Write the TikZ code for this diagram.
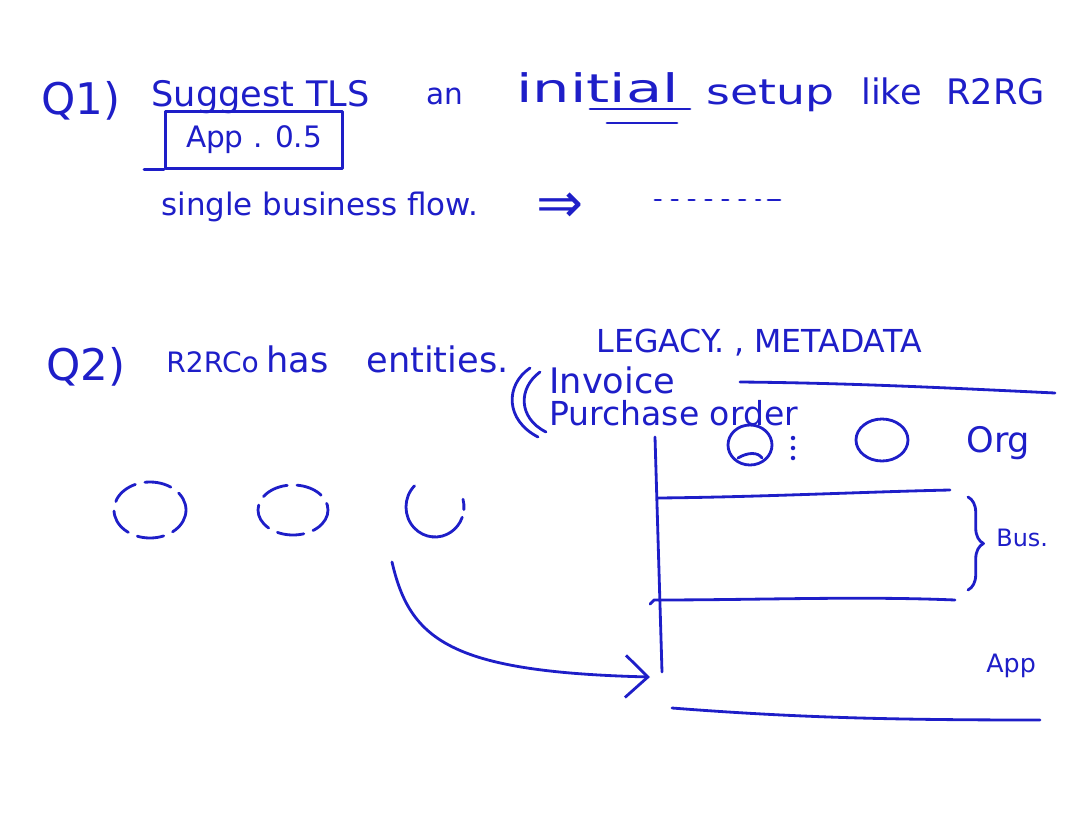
\documentclass[tikz,border=0pt]{standalone}
\usepackage{fontspec}
\setsansfont{DejaVu Sans}
\usetikzlibrary{arrows.meta,decorations.pathreplacing}
\definecolor{ink}{RGB}{30,30,200}
\tikzset{
  hand/.style={anchor=base west, inner sep=0pt, font=\sffamily\fontsize{25}{27}\selectfont},
  handbig/.style={hand, font=\sffamily\fontsize{31}{33}\selectfont},
  handsm/.style={hand, font=\sffamily\fontsize{21}{23}\selectfont},
  handxs/.style={hand, font=\sffamily\fontsize{18}{20}\selectfont},
  oval/.style={dash pattern=on 19pt off 7pt}
}
\begin{document}
\begin{tikzpicture}[x=0.025cm, y=-0.025cm, color=ink, line width=2pt, line join=round, line cap=round, >=stealth]
	\useasboundingbox (0,0) rectangle (1080,816);
	% Q1
	\node[handbig] (qa) at (40,114) {Q1)};
	\node[hand] (suggest) at (150,106) {Suggest};
	\node[hand] (tls) at (305,106) {TLS};
	\node[handsm] (an) at (425,104) {an};
	\node[hand, font=\sffamily\fontsize{28}{30}\selectfont] (initial) at (515,102) {\scalebox{1.5}[1]{initial}};
	\node[hand] (setup) at (705,104) {\scalebox{1.3}[1]{setup}};
	\node[hand] (like) at (860,104) {like};
	\node[hand] (rrg) at (945,104) {R2RG};
	\draw (590,109)--(690,109);
	\draw (607,123)--(677,123);
	\node[handsm, anchor=center, draw, minimum width=126pt, minimum height=40pt] (app) at (254,140) {App . 0.5};
	\draw (app.south west) ++(-20,0) -- (app.south west);
	\node[hand, font=\sffamily\fontsize{22}{24}\selectfont] (flow) at (160,215) {single business flow.};
	\node[hand, anchor=center, font=\sffamily\fontsize{40}{42}\selectfont] (impl) at (560,208) {⇒};
	\draw[dash pattern=on 4pt off 8pt] (655,200)--(760,200);
	\draw (768,200)--(780,200);
	% Q2
	\node[handbig] (qb) at (45,380) {Q2)};
	\node[hand, font=\sffamily\fontsize{20}{22}\selectfont] (rrco) at (165,372) {R2RCo};
	\node[hand] (has) at (265,372) {has};
	\node[hand] (ent) at (365,372) {entities.};
	\node[hand, font=\sffamily\fontsize{22.5}{24}\selectfont] (legacy) at (595,352) {LEGACY. , METADATA};
	\node[hand] (invoice) at (548,393) {Invoice};
	\node[hand, font=\sffamily\fontsize{23.5}{25}\selectfont] (po) at (548,425) {Purchase order};
	\draw (530,368) .. controls (505,385) and (505,420) .. (538,437);
	\draw (540,372) .. controls (518,388) and (518,418) .. (546,432);
	\draw (740,382) .. controls (850,383) and (950,388) .. (1055,393);
	% entities row
	\draw (750,445) ellipse (22 and 20);
	\draw (738,458) .. controls (748,452) and (758,452) .. (762,458);
	\foreach \y in {438,448,458}{
		\fill (793,\y) circle (1.6pt);}
	\draw (882,440) ellipse (26 and 21);
	\node[hand] (org) at (965,452) {Org};
	% layers
	\coordinate (vtop) at (655,437);
	\coordinate (vbot) at (662,672);
	\draw (vtop) -- (vbot);
	\draw (658,498) .. controls (760,497) and (860,492) .. (950,490);
	\draw (650,604) -- (654,600) .. controls (760,600) and (860,596) .. (955,600);
	\draw (672,708) .. controls (800,718) and (900,720) .. (1040,720);
	\draw[decorate, decoration={brace, amplitude=11pt}] (968,497) -- (968,590);
	\node[hand, font=\sffamily\fontsize{17}{19}\selectfont] (bus) at (995,546) {Bus.};
	\node[hand, font=\sffamily\fontsize{18}{20}\selectfont] (applbl) at (985,672) {App};
	% dashed ovals
	\draw[oval] (150,510) ellipse (36 and 28);
	\draw[oval] (293,510) ellipse (35 and 25);
	\draw (435,507) ++(225:29 and 30) arc (225:95:29 and 30) coordinate (ov3);
	\draw (435,507) ++(95:29 and 30) arc (95:20:29 and 30);
	\draw (435,507) ++(5:29 and 30) arc (5:-15:29 and 30);
	\coordinate (cstart) at (392,562);
	\draw[-{Straight Barb[length=16pt,width=30pt]}] (cstart) .. controls (410,640) and (450,672) .. (650,677);
\end{tikzpicture}
\end{document}
